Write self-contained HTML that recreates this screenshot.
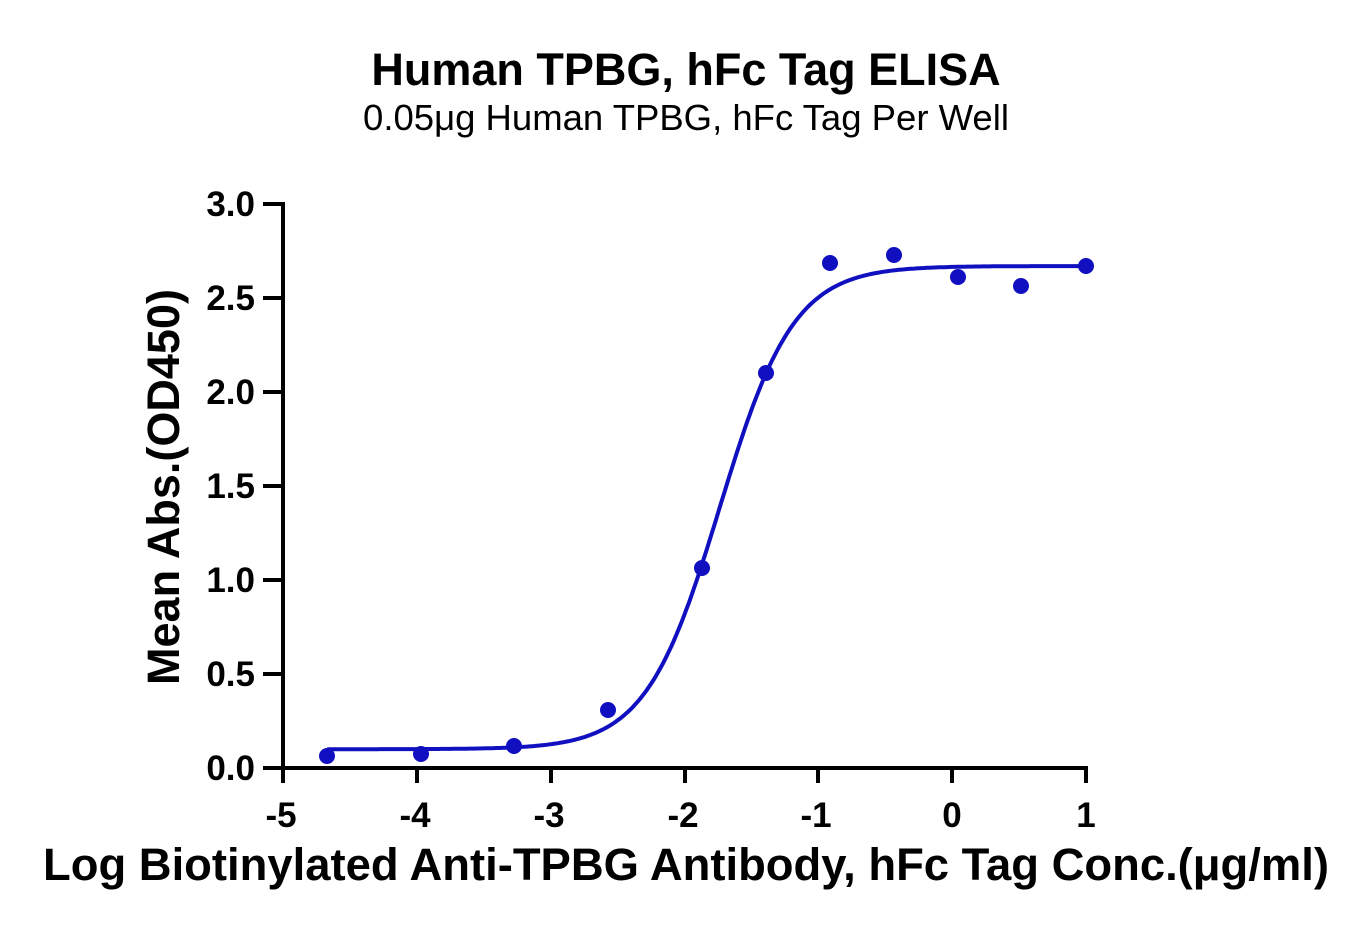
<!DOCTYPE html>
<html><head><meta charset="utf-8"><style>
html,body{margin:0;padding:0;background:#fff;}
svg{display:block;font-family:"Liberation Sans",Arial,sans-serif;}
</style></head><body>
<svg id="s" width="1372" height="932" viewBox="0 0 1372 932" xmlns="http://www.w3.org/2000/svg">
<text x="686" y="85" text-anchor="middle" font-size="45" font-weight="bold">Human TPBG, hFc Tag ELISA</text>
<text x="686" y="130" text-anchor="middle" font-size="36.5">0.05μg Human TPBG, hFc Tag Per Well</text>
<g stroke="#000" stroke-width="4" fill="none">
<line x1="283" y1="202" x2="283" y2="770"/>
<line x1="281" y1="768" x2="1088" y2="768"/>
<line x1="263" y1="204" x2="283" y2="204"/>
<line x1="263" y1="298" x2="283" y2="298"/>
<line x1="263" y1="392" x2="283" y2="392"/>
<line x1="263" y1="486" x2="283" y2="486"/>
<line x1="263" y1="580" x2="283" y2="580"/>
<line x1="263" y1="674" x2="283" y2="674"/>
<line x1="263" y1="768" x2="283" y2="768"/>
<line x1="283" y1="768" x2="283" y2="783"/>
<line x1="417" y1="768" x2="417" y2="783"/>
<line x1="551" y1="768" x2="551" y2="783"/>
<line x1="685" y1="768" x2="685" y2="783"/>
<line x1="818" y1="768" x2="818" y2="783"/>
<line x1="952" y1="768" x2="952" y2="783"/>
<line x1="1086" y1="768" x2="1086" y2="783"/>
</g>
<g font-size="35" font-weight="bold" text-anchor="end">
<text x="255" y="216">3.0</text><text x="255" y="310">2.5</text><text x="255" y="404">2.0</text>
<text x="255" y="498">1.5</text><text x="255" y="592">1.0</text><text x="255" y="686">0.5</text>
<text x="255" y="780">0.0</text>
</g>
<g font-size="35" font-weight="bold" text-anchor="middle">
<text x="281" y="827">-5</text><text x="415" y="827">-4</text><text x="549" y="827">-3</text>
<text x="683" y="827">-2</text><text x="816" y="827">-1</text><text x="952" y="827">0</text>
<text x="1086" y="827">1</text>
</g>
<text x="686" y="880" text-anchor="middle" font-size="45.4" font-weight="bold">Log Biotinylated Anti-TPBG Antibody, hFc Tag Conc.(μg/ml)</text>
<text transform="translate(179,487) rotate(-90)" text-anchor="middle" font-size="45" font-weight="bold">Mean Abs.(OD450)</text>
<path id="c" fill="none" stroke="#1010c0" stroke-width="4"/>
<g fill="#1010c0">
<circle cx="327" cy="756" r="8"/><circle cx="421" cy="754" r="8"/><circle cx="514" cy="746" r="8"/>
<circle cx="608" cy="710" r="8"/><circle cx="702" cy="568" r="8"/><circle cx="766" cy="373" r="8"/>
<circle cx="830" cy="263" r="8"/><circle cx="894" cy="255" r="8"/><circle cx="958" cy="277" r="8"/>
<circle cx="1021" cy="286" r="8"/><circle cx="1086" cy="266" r="8"/>
</g>
</svg>
<script>
var d="";for(var i=0;i<=300;i++){var x=-4.67+i*(5.67/300);var y=0.1+2.57/(1+Math.pow(10,(-1.737-x)*1.57));
var px=283+(x+5)*133.83,py=768-y*188;d+=(i?"L":"M")+px.toFixed(1)+","+py.toFixed(1);}
document.getElementById("c").setAttribute("d",d);
</script>
</body></html>
